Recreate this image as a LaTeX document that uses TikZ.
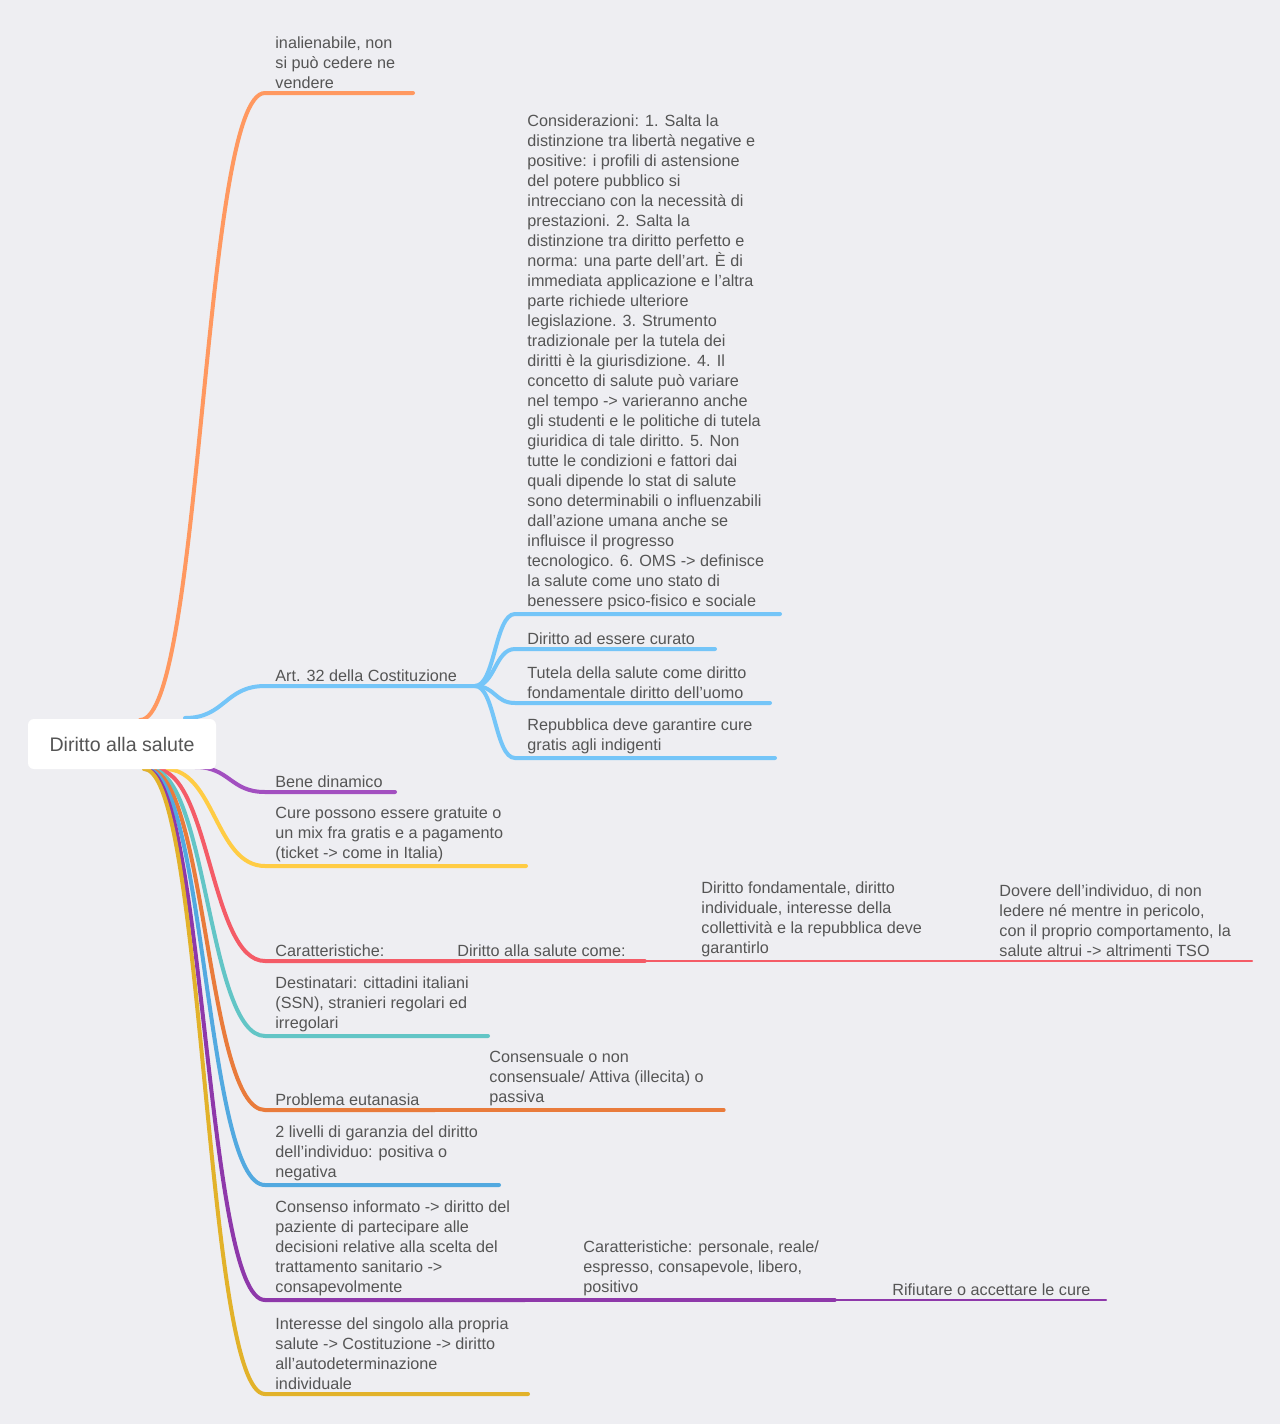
\documentclass[tikz,border=0pt]{standalone}
\usepackage{fontspec}
\setmainfont{Liberation Sans}
\definecolor{bg}{HTML}{EEEEF2}
\definecolor{tx}{HTML}{555555}
\definecolor{cOr}{HTML}{FF9860}
\definecolor{cBl}{HTML}{74C5F8}
\definecolor{cPu}{HTML}{A24FC0}
\definecolor{cYe}{HTML}{FFCC44}
\definecolor{cRe}{HTML}{F45B67}
\definecolor{cTe}{HTML}{62C5C6}
\definecolor{cOd}{HTML}{E97B3B}
\definecolor{cB2}{HTML}{52A9E0}
\definecolor{cP2}{HTML}{8E38AA}
\definecolor{cGo}{HTML}{E2B22A}
\newcommand\br[6]{\draw[#1,line width=2pt] (#2,#3) .. controls ({(#2+#4)/2},#3) and ({(#2+#4)/2},#5) .. (#4,#5) -- (#6,#5);}
\newcommand\lab[4][tx]{\node[lbl,text=#1] at (#2,#3) {#4};}
\tikzset{lbl/.style={anchor=south west,align=left,font=\fontsize{8.1}{10}\selectfont,inner sep=0pt}}
\begin{document}
\begin{tikzpicture}[x=0.5pt,y=-0.5pt,line cap=round]
\fill[bg] (0,0) rectangle (1280,1424);
% branches
\br{cOr}{140}{720}{265}{93}{413}
\br{cBl}{185}{718}{265}{686}{475}
\br{cPu}{195}{767}{265}{792}{395}
\br{cYe}{165}{769}{265}{866}{526}
\br{cRe}{155}{769}{265}{961}{460}
\br{cTe}{150}{769}{265}{1036}{488}
\br{cOd}{148}{769}{265}{1110}{435}
\br{cB2}{146}{769}{265}{1185}{499}
\br{cP2}{145}{769}{265}{1300}{525}
\br{cGo}{144}{769}{265}{1394}{528}
% Art 32 children
\br{cBl}{475}{686}{515}{614}{780}
\br{cBl}{475}{686}{515}{649}{715}
\br{cBl}{475}{686}{515}{703}{770}
\br{cBl}{475}{686}{515}{758}{775}
% red chain
\draw[cRe,line width=1.6pt] (460,961) -- (645,961);
\draw[cRe,line width=1.3pt] (645,961) -- (943,961);
\draw[cRe,line width=1pt] (943,961) -- (1252,961);
\draw[cOd,line width=1.6pt] (435,1110) -- (724,1110);
\draw[cP2,line width=1.6pt] (525,1300) -- (835,1300);
\draw[cP2,line width=1.2pt] (835,1300) -- (1106,1300);
% root
\node[fill=white,rounded corners=3pt,minimum width=94pt,minimum height=25pt,inner sep=0pt,text=tx,font=\fontsize{9.8}{12}\selectfont] (root) at (122,744) {Diritto alla salute};
% labels
\lab{275}{89}{inalienabile, non\\si può cedere ne\\vendere}
\lab{275}{682}{Art. 32 della Costituzione}
\lab{527}{610}{Considerazioni: 1. Salta la\\distinzione tra libertà negative e\\positive: i profili di astensione\\del potere pubblico si\\intrecciano con la necessità di\\prestazioni. 2. Salta la\\distinzione tra diritto perfetto e\\norma: una parte dell’art. È di\\immediata applicazione e l’altra\\parte richiede ulteriore\\legislazione. 3. Strumento\\tradizionale per la tutela dei\\diritti è la giurisdizione. 4. Il\\concetto di salute può variare\\nel tempo -> varieranno anche\\gli studenti e le politiche di tutela\\giuridica di tale diritto. 5. Non\\tutte le condizioni e fattori dai\\quali dipende lo stat di salute\\sono determinabili o influenzabili\\dall’azione umana anche se\\influisce il progresso\\tecnologico. 6. OMS -> definisce\\la salute come uno stato di\\benessere psico-fisico e sociale}
\lab{527}{645}{Diritto ad essere curato}
\lab{527}{699}{Tutela della salute come diritto\\fondamentale diritto dell’uomo}
\lab{527}{754}{Repubblica deve garantire cure\\gratis agli indigenti}
\lab{275}{788}{Bene dinamico}
\lab{275}{862}{Cure possono essere gratuite o\\un mix fra gratis e a pagamento\\(ticket -> come in Italia)}
\lab{275}{957}{Caratteristiche:}
\lab{457}{957}{Diritto alla salute come:}
\lab{701}{957}{Diritto fondamentale, diritto\\individuale, interesse della\\collettività e la repubblica deve\\garantirlo}
\lab{999}{957}{Dovere dell’individuo, di non\\ledere né mentre in pericolo,\\con il proprio comportamento, la\\salute altrui -> altrimenti TSO}
\lab{275}{1032}{Destinatari: cittadini italiani\\(SSN), stranieri regolari ed\\irregolari}
\lab{275}{1106}{Problema eutanasia}
\lab{489}{1106}{Consensuale o non\\consensuale/ Attiva (illecita) o\\passiva}
\lab{275}{1181}{2 livelli di garanzia del diritto\\dell’individuo: positiva o\\negativa}
\lab{275}{1296}{Consenso informato -> diritto del\\paziente di partecipare alle\\decisioni relative alla scelta del\\trattamento sanitario ->\\consapevolmente}
\lab{583}{1296}{Caratteristiche: personale, reale/\\espresso, consapevole, libero,\\positivo}
\lab{892}{1296}{Rifiutare o accettare le cure}
\lab{275}{1390}{Interesse del singolo alla propria\\salute -> Costituzione -> diritto\\all’autodeterminazione\\individuale}
\end{tikzpicture}
\end{document}
